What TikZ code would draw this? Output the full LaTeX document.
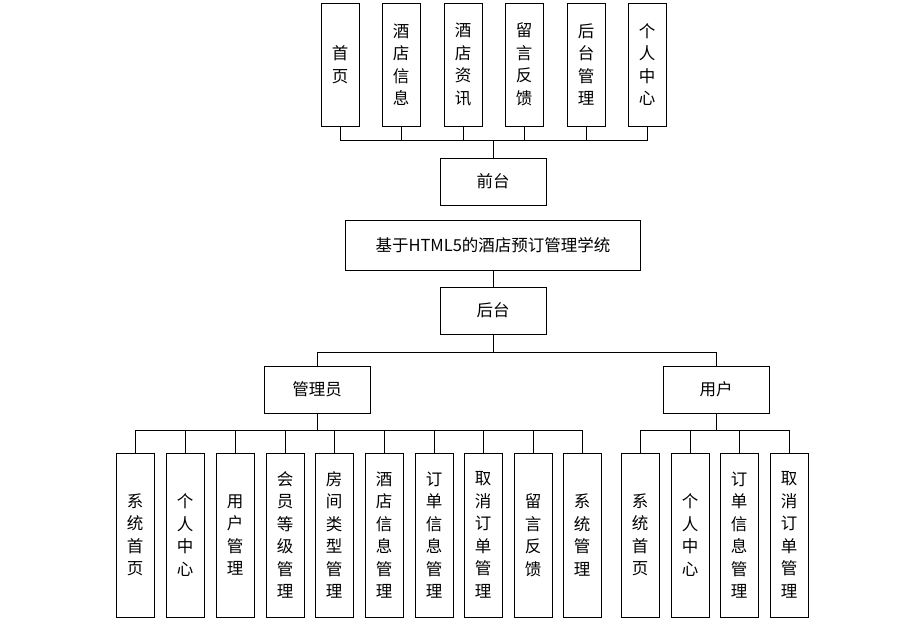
\documentclass[tikz,border=0pt]{standalone}
\usepackage{fontspec}
\newfontfamily\cjk{Noto Sans CJK SC}
\begin{document}
\begin{tikzpicture}[x=1pt,y=-1pt,
  every node/.style={draw=black,line width=0.8pt,inner sep=0pt,font=\cjk\fontsize{16.5}{22.5}\selectfont,align=center},
  vbox/.style={minimum width=38pt,minimum height=123pt},
  lbox/.style={minimum width=38pt,minimum height=164pt},
  hbox/.style={minimum width=106pt,minimum height=47pt},
  ln/.style={line width=0.8pt}]
\useasboundingbox (0,0) rectangle (909,625);
% top
\foreach \n/\x/\t in {t1/340/首\\页, t2/401/酒\\店\\信\\息, t3/463/酒\\店\\资\\讯, t4/524/留\\言\\反\\馈, t5/586/后\\台\\管\\理, t6/647/个\\人\\中\\心}
  \node[vbox] (\n) at (\x,64.5) {\t};
\node[hbox] (qt) at (493,181.5) {前台};
\node[minimum width=295pt,minimum height=50pt] (main) at (493,245) {基于HTML5的酒店预订管理学统};
\node[hbox] (ht) at (493,310.5) {后台};
\node[hbox] (adm) at (317,389.5) {管理员};
\node[hbox] (usr) at (716,389.5) {用户};
\coordinate (tb) at (493,140);
\foreach \n in {t1,t2,t3,t4,t5,t6} \draw[ln] (\n.south) |- (tb);
\draw[ln] (tb) -- (qt.north);
\draw[ln] (main.south) -- (ht.north);
\coordinate (hb) at (493,352);
\draw[ln] (ht.south) -- (hb);
\draw[ln] (hb) -| (adm.north);
\draw[ln] (hb) -| (usr.north);
\coordinate (ab) at (317,430);
\coordinate (ub) at (716,430);
\draw[ln] (adm.south) -- (ab);
\draw[ln] (usr.south) -- (ub);
\foreach \n/\x/\t in {a1/135/系\\统\\首\\页, a2/185/个\\人\\中\\心, a3/235/用\\户\\管\\理, a4/285/会\\员\\等\\级\\管\\理, a5/334/房\\间\\类\\型\\管\\理, a6/384/酒\\店\\信\\息\\管\\理, a7/434/订\\单\\信\\息\\管\\理, a8/483/取\\消\\订\\单\\管\\理, a9/533/留\\言\\反\\馈, a10/582/系\\统\\管\\理}
  {\node[lbox] (\n) at (\x,535) {\t};
   \draw[ln] (\n.north) |- (ab);}
\foreach \n/\x/\t in {u1/640/系\\统\\首\\页, u2/690/个\\人\\中\\心, u3/739/订\\单\\信\\息\\管\\理, u4/789/取\\消\\订\\单\\管\\理}
  {\node[lbox] (\n) at (\x,535) {\t};
   \draw[ln] (\n.north) |- (ub);}
\end{tikzpicture}
\end{document}
